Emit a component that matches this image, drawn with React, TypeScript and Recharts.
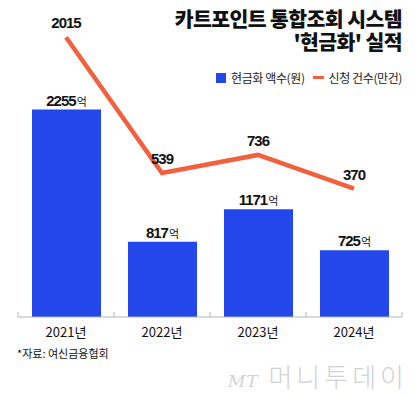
import React from "react";
import { Bar, ComposedChart, LabelList, Line, XAxis, YAxis } from "recharts";

const years = ["2021년", "2022년", "2023년", "2024년"];
const cashAmounts = [2255, 817, 1171, 725]; // 억원
const applications = [2015, 539, 736, 370]; // 만건

const data = years.map((year, i) => ({
  year,
  amount: cashAmounts[i],
  count: applications[i],
}));

const BLUE = "#2347ea";
const ORANGE = "#f2603e";
const KR = "'Noto Sans CJK KR', 'Noto Sans', sans-serif";
const NUM = "'Liberation Sans', Arial, sans-serif";

const PLOT_LEFT = 18;
const PLOT_RIGHT = 402;
const BAND = (PLOT_RIGHT - PLOT_LEFT) / years.length;

function YearTick(props: any) {
  const { x, y, payload, index } = props;
  return (
    <g>
      <line x1={x - BAND / 2} y1={y} x2={x - BAND / 2} y2={y - 5} stroke="#b5b5b5" />
      {index === years.length - 1 && (
        <line x1={x + BAND / 2} y1={y} x2={x + BAND / 2} y2={y - 5} stroke="#b5b5b5" />
      )}
      <text x={x} y={y + 20} textAnchor="middle" fontFamily={KR} fontSize={13} fill="#111">
        {payload.value}
      </text>
    </g>
  );
}

function BarValue(props: any) {
  const { x, y, width, value } = props;
  return (
    <text x={x + width / 2} y={y - 4} textAnchor="middle" fill="#111">
      <tspan fontFamily={NUM} fontWeight={700} fontSize={15} letterSpacing={-1}>
        {value}
      </tspan>
      <tspan fontFamily={KR} fontSize={11} dx={1}>
        억
      </tspan>
    </text>
  );
}

function LineValue(props: any) {
  const { x, y, value } = props;
  return (
    <text
      x={x}
      y={y - 9}
      textAnchor="middle"
      fill="#111"
      fontFamily={NUM}
      fontWeight={700}
      fontSize={15}
      letterSpacing={-1}
    >
      {value}
    </text>
  );
}

const titleStyle: React.CSSProperties = {
  position: "absolute",
  right: 18,
  textAlign: "right",
  fontWeight: 900,
  fontSize: 20.5,
  lineHeight: "22px",
  height: 22,
  letterSpacing: -0.6,
  color: "#111",
  whiteSpace: "nowrap",
};

export default function App() {
  return (
    <div
      style={{
        position: "absolute",
        left: 0,
        top: 0,
        width: 420,
        height: 398,
        background: "#fff",
        fontFamily: KR,
        overflow: "hidden",
      }}
    >
      <ComposedChart
        width={420}
        height={398}
        data={data}
        margin={{ top: 30, right: 18, left: 18, bottom: 51 }}
      >
        <XAxis
          dataKey="year"
          axisLine={{ stroke: "#b5b5b5" }}
          tickLine={false}
          tickSize={0}
          tickMargin={0}
          height={30}
          interval={0}
          tick={<YearTick />}
        />
        <YAxis yAxisId="amount" hide domain={[0, 3120]} />
        <YAxis yAxisId="count" hide orientation="right" domain={[-1026, 2094]} />
        <Bar yAxisId="amount" dataKey="amount" fill={BLUE} barSize={69} isAnimationActive={false}>
          <LabelList dataKey="amount" content={<BarValue />} />
        </Bar>
        <Line
          yAxisId="count"
          type="linear"
          dataKey="count"
          stroke={ORANGE}
          strokeWidth={4.5}
          dot={false}
          activeDot={false}
          isAnimationActive={false}
        >
          <LabelList dataKey="count" content={<LineValue />} />
        </Line>
      </ComposedChart>

      <div style={{ ...titleStyle, top: 7 }}>카트포인트 통합조회 시스템</div>
      <div style={{ ...titleStyle, top: 30 }}>'현금화' 실적</div>

      <div
        style={{
          position: "absolute",
          right: 14,
          top: 67,
          display: "flex",
          alignItems: "center",
          gap: 5,
          fontSize: 12,
          color: "#222",
          letterSpacing: -0.4,
          padding: "2px 4px",
        }}
      >
        <span style={{ width: 10, height: 10, background: BLUE, display: "inline-block" }} />
        <span>현금화 액수(원)</span>
        <span
          style={{ width: 11, height: 3, background: ORANGE, display: "inline-block", marginLeft: 3 }}
        />
        <span>신청 건수(만건)</span>
      </div>

      <div style={{ position: "absolute", left: 17, top: 345, fontSize: 11, color: "#111" }}>
        *자료: 여신금융협회
      </div>

      <div
        style={{
          position: "absolute",
          right: 12,
          top: 357,
          fontSize: 26,
          color: "#d2d2d2",
          fontWeight: 300,
          letterSpacing: 4,
        }}
      >
        <span style={{ fontStyle: "italic", fontFamily: "'DejaVu Serif', serif", fontSize: 17, letterSpacing: 1 }}>
          MT
        </span>{" "}
        머니투데이
      </div>
    </div>
  );
}
